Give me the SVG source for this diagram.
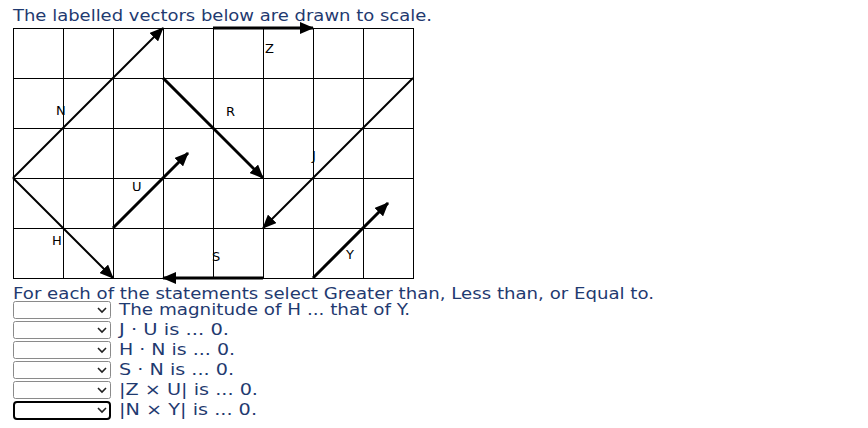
<svg xmlns="http://www.w3.org/2000/svg" width="868" height="428" viewBox="0 0 868 428">
<style>
.t{font-family:"DejaVu Sans","Liberation Sans",sans-serif;font-size:16.5px;fill:#1f3a70}
.lb{font-family:"DejaVu Sans","Liberation Sans",sans-serif;font-size:13px;fill:#000}
.g{stroke:#000;stroke-width:1;fill:none}
.v{stroke:#000;stroke-width:2;fill:none;marker-end:url(#ah)}
.vt{stroke:#000;stroke-width:3;fill:none;marker-end:url(#ah)}
.sel{fill:#fff;stroke:#8a8a8a;stroke-width:1}
.chev{fill:none;stroke:#222;stroke-width:1.6}
</style>
<defs>
<marker id="ah" markerUnits="userSpaceOnUse" markerWidth="14" markerHeight="12" refX="13" refY="6" orient="auto">
<path d="M0,0 L14,6 L0,12 Z" fill="#000"/>
</marker>
</defs>
<rect width="868" height="428" fill="#fff"/>
<text class="t" x="13" y="21" textLength="419" lengthAdjust="spacingAndGlyphs">The labelled vectors below are drawn to scale.</text>
<g id="grid" class="g">
<rect x="13.5" y="28.5" width="400" height="250"/>
<path d="M63.5,28.5V278.5M113.5,28.5V278.5M163.5,28.5V278.5M213.5,28.5V278.5M263.5,28.5V278.5M313.5,28.5V278.5M363.5,28.5V278.5"/>
<path d="M13.5,78.5H413.5M13.5,128.5H413.5M13.5,178.5H413.5M13.5,228.5H413.5"/>
</g>
<g id="connectors">
<g id="N"><line class="v" x1="13" y1="178" x2="163" y2="28"/><text class="lb" x="56" y="115">N</text></g>
<g id="H"><line class="v" x1="13" y1="178" x2="113" y2="278"/><text class="lb" x="52" y="245">H</text></g>
<g id="R"><line class="vt" x1="163" y1="78" x2="263" y2="178"/><text class="lb" x="226" y="116">R</text></g>
<g id="Z"><line class="vt" x1="213" y1="28" x2="313" y2="28"/><text class="lb" x="265" y="53">Z</text></g>
<g id="J"><line class="v" x1="413" y1="78" x2="263" y2="228"/><text class="lb" x="312" y="160">J</text></g>
<g id="U"><line class="vt" x1="113" y1="228" x2="188" y2="153"/><text class="lb" x="132" y="191">U</text></g>
<g id="S"><line class="vt" x1="263" y1="278" x2="163" y2="278"/><text class="lb" x="212" y="261">S</text></g>
<g id="Y"><line class="vt" x1="313" y1="278" x2="388" y2="203"/><text class="lb" x="346" y="259">Y</text></g>
</g>
<text class="t" x="13" y="299" textLength="641" lengthAdjust="spacingAndGlyphs">For each of the statements select Greater than, Less than, or Equal to.</text>
<g id="selects">
<g><rect class="sel" x="13.5" y="301.5" width="97" height="17" rx="2"/><path class="chev" d="M98,308 L102,312 L106,308"/></g>
<g><rect class="sel" x="13.5" y="321.5" width="97" height="17" rx="2"/><path class="chev" d="M98,328 L102,332 L106,328"/></g>
<g><rect class="sel" x="13.5" y="341.5" width="97" height="17" rx="2"/><path class="chev" d="M98,348 L102,352 L106,348"/></g>
<g><rect class="sel" x="13.5" y="361.5" width="97" height="17" rx="2"/><path class="chev" d="M98,368 L102,372 L106,368"/></g>
<g><rect class="sel" x="13.5" y="381.5" width="97" height="17" rx="2"/><path class="chev" d="M98,388 L102,392 L106,388"/></g>
<g><rect x="14" y="402" width="96" height="17" rx="3" fill="#fff" stroke="#000" stroke-width="2"/><path class="chev" d="M98,408 L102,412 L106,408"/></g>
</g>
<text class="t" x="119" y="315" textLength="291" lengthAdjust="spacingAndGlyphs">The magnitude of H ... that of Y.</text>
<text class="t" x="119" y="335" textLength="110" lengthAdjust="spacingAndGlyphs">J · U is ... 0.</text>
<text class="t" x="119" y="355" textLength="116" lengthAdjust="spacingAndGlyphs">H · N is ... 0.</text>
<text class="t" x="119" y="375" textLength="115" lengthAdjust="spacingAndGlyphs">S · N is ... 0.</text>
<text class="t" x="119" y="395" textLength="139" lengthAdjust="spacingAndGlyphs">|Z × U| is ... 0.</text>
<text class="t" x="119" y="415" textLength="138" lengthAdjust="spacingAndGlyphs">|N × Y| is ... 0.</text>
</svg>
